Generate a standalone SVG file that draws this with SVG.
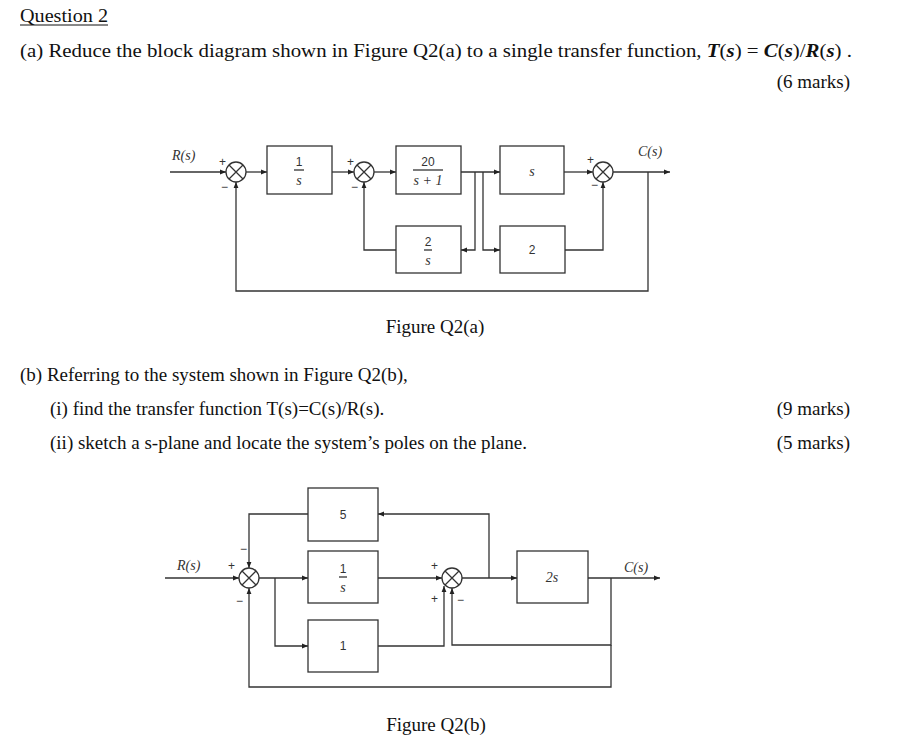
<svg xmlns="http://www.w3.org/2000/svg" width="913" height="749" viewBox="0 0 913 749">
<defs>
<marker id="ar" viewBox="0 0 10 10" refX="10" refY="5" markerWidth="6" markerHeight="6" markerUnits="userSpaceOnUse" orient="auto"><path d="M0,1 L10,5 L0,9 z" fill="#222"/></marker>
<style>
.t{font-family:"Liberation Serif",serif;font-size:19px;fill:#111}
.m{font-family:"Liberation Serif",serif;font-style:italic;font-size:14px;fill:#333}
.s{font-family:"Liberation Sans",sans-serif;font-size:12px;fill:#333}
.b{fill:#fff;stroke:#333;stroke-width:1.3}
.l{fill:none;stroke:#333;stroke-width:1.3}
.a{fill:none;stroke:#333;stroke-width:1.3;marker-end:url(#ar)}
</style>
</defs>
<rect width="913" height="749" fill="#fff"/>
<g id="text">
<text class="t" x="20" y="22" textLength="88" lengthAdjust="spacingAndGlyphs">Question 2</text>
<line x1="20" y1="25" x2="108" y2="25" stroke="#111" stroke-width="1"/>
<text class="t" x="20" y="57" textLength="832" lengthAdjust="spacingAndGlyphs">(a) Reduce the block diagram shown in Figure Q2(a) to a single transfer function, <tspan font-weight="bold" font-style="italic">T</tspan>(<tspan font-weight="bold" font-style="italic">s</tspan>) = <tspan font-weight="bold" font-style="italic">C</tspan>(<tspan font-weight="bold" font-style="italic">s</tspan>)/<tspan font-weight="bold" font-style="italic">R</tspan>(<tspan font-weight="bold" font-style="italic">s</tspan>) .</text>
<text class="t" x="850" y="88" text-anchor="end">(6 marks)</text>
<text class="t" x="435" y="333" text-anchor="middle">Figure Q2(a)</text>
<text class="t" x="20" y="381">(b) Referring to the system shown in Figure Q2(b),</text>
<text class="t" x="50" y="415">(i) find the transfer function T(s)=C(s)/R(s).</text>
<text class="t" x="850" y="415" text-anchor="end">(9 marks)</text>
<text class="t" x="50" y="449">(ii) sketch a s-plane and locate the system’s poles on the plane.</text>
<text class="t" x="850" y="449" text-anchor="end">(5 marks)</text>
<text class="t" x="436" y="731" text-anchor="middle">Figure Q2(b)</text>
</g>
<g id="a-connectors">
<line class="a" x1="170" y1="172" x2="226" y2="172"/>
<line class="a" x1="246" y1="172" x2="267" y2="172"/>
<line class="a" x1="332" y1="172" x2="354" y2="172"/>
<line class="a" x1="374" y1="172" x2="396" y2="172"/>
<line class="a" x1="461" y1="172" x2="500" y2="172"/>
<line class="a" x1="564" y1="172" x2="593" y2="172"/>
<line class="a" x1="613" y1="172" x2="670" y2="172"/>
<polyline class="a" points="475,172 475,250 461,250"/>
<polyline class="a" points="396,250 364,250 364,182"/>
<polyline class="a" points="483,172 483,250 500,250"/>
<polyline class="a" points="565,250 603,250 603,182"/>
<polyline class="a" points="648,172 648,291 236,291 236,182"/>
</g>
<g id="a-sum1"><circle class="b" cx="236" cy="172" r="10"/><path class="l" d="M229,165 L243,179 M243,165 L229,179"/><text class="s" x="219" y="166">+</text><text class="s" x="221" y="191">−</text></g>
<g id="a-sum2"><circle class="b" cx="364" cy="172" r="10"/><path class="l" d="M357,165 L371,179 M371,165 L357,179"/><text class="s" x="347" y="166">+</text><text class="s" x="351" y="191">−</text></g>
<g id="a-sum3"><circle class="b" cx="603" cy="172" r="10"/><path class="l" d="M596,165 L610,179 M610,165 L596,179"/><text class="s" x="587" y="164">+</text><text class="s" x="591" y="189">−</text></g>
<g id="a-R"><text class="m" x="172" y="160">R(s)</text></g>
<g id="a-C"><text class="m" x="638" y="156">C(s)</text></g>
<g id="a-b1"><rect class="b" x="267" y="146" width="65" height="48"/><text class="s" x="299" y="166" text-anchor="middle" font-size="11">1</text><line class="l" x1="294" y1="170" x2="304" y2="170"/><text class="m" x="299" y="185" text-anchor="middle" font-size="12">s</text></g>
<g id="a-b2"><rect class="b" x="396" y="146" width="65" height="48"/><text class="s" x="428" y="166" text-anchor="middle" font-size="11">20</text><line class="l" x1="413" y1="170" x2="443" y2="170"/><text class="m" x="428" y="185" text-anchor="middle" font-size="12">s + 1</text></g>
<g id="a-b3"><rect class="b" x="500" y="146" width="64" height="48"/><text class="m" x="532" y="176" text-anchor="middle" font-size="12">s</text></g>
<g id="a-b4"><rect class="b" x="396" y="226" width="65" height="47"/><text class="s" x="428" y="246" text-anchor="middle" font-size="11">2</text><line class="l" x1="424" y1="250" x2="432" y2="250"/><text class="m" x="428" y="265" text-anchor="middle" font-size="12">s</text></g>
<g id="a-b5"><rect class="b" x="500" y="226" width="65" height="47"/><text class="s" x="532" y="254" text-anchor="middle" font-size="11">2</text></g>
<g id="b-connectors">
<line class="a" x1="165" y1="578" x2="239" y2="578"/>
<line class="a" x1="259" y1="578" x2="308" y2="578"/>
<line class="a" x1="378" y1="578" x2="442" y2="578"/>
<line class="a" x1="462" y1="578" x2="517" y2="578"/>
<line class="a" x1="588" y1="578" x2="660" y2="578"/>
<polyline class="a" points="489,578 489,514 378,514"/>
<polyline class="a" points="308,514 249,514 249,568"/>
<polyline class="a" points="275,578 275,646 308,646"/>
<polyline class="a" points="378,646 444,646 444,586"/>
<polyline class="a" points="611,578 611,645 452,645 452,588"/>
<polyline class="a" points="611,645 611,687 249,687 249,588"/>
</g>
<g id="b-sum1"><circle class="b" cx="249" cy="578" r="10"/><path class="l" d="M242,571 L256,585 M256,571 L242,585"/><text class="s" x="228" y="570">+</text><text class="s" x="240" y="553">−</text><text class="s" x="236" y="605">−</text></g>
<g id="b-sum2"><circle class="b" cx="452" cy="578" r="10"/><path class="l" d="M445,571 L459,585 M459,571 L445,585"/><text class="s" x="431" y="570">+</text><text class="s" x="431" y="603">+</text><text class="s" x="457" y="604">−</text></g>
<g id="b-R"><text class="m" x="177" y="570">R(s)</text></g>
<g id="b-C"><text class="m" x="624" y="572">C(s)</text></g>
<g id="b-b5"><rect class="b" x="308" y="488" width="70" height="53"/><text class="s" x="343" y="519" text-anchor="middle">5</text></g>
<g id="b-b1s"><rect class="b" x="308" y="551" width="70" height="52"/><text class="s" x="343" y="573" text-anchor="middle" font-size="11">1</text><line class="l" x1="339" y1="577" x2="347" y2="577"/><text class="m" x="343" y="592" text-anchor="middle" font-size="12">s</text></g>
<g id="b-b1"><rect class="b" x="308" y="620" width="70" height="52"/><text class="s" x="343" y="650" text-anchor="middle">1</text></g>
<g id="b-b2s"><rect class="b" x="517" y="551" width="71" height="52"/><text class="m" x="552" y="582" text-anchor="middle">2s</text></g>
</svg>
